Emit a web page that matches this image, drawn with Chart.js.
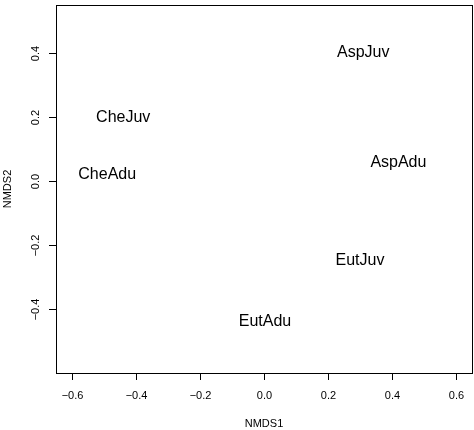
<!DOCTYPE html>
<html>
<head>
<script src="https://cdn.jsdelivr.net/npm/chart.js@4"></script>
<style>body{margin:0;background:#fff}#c{display:block}</style>
</head>
<body>
<canvas id="c" width="474" height="430"></canvas>
<script>
const labels = ['AspJuv', 'CheJuv', 'CheAdu', 'AspAdu', 'EutJuv', 'EutAdu'];
const nmds1 = [0.31, -0.44, -0.49, 0.42, 0.30, 0.003];
const nmds2 = [0.40, 0.197, 0.019, 0.059, -0.25, -0.44];
const xTicks = [-0.6, -0.4, -0.2, 0.0, 0.2, 0.4, 0.6];
const yTicks = [-0.4, -0.2, 0.0, 0.2, 0.4];

const FONT = '"Liberation Sans", Arial, sans-serif';

const rPlot = {
    id: 'rPlot',
    afterDraw(chart) {
        const ctx = chart.ctx;
        const a = chart.chartArea;
        const xs = chart.scales.x, ys = chart.scales.y;
        ctx.save();
        ctx.strokeStyle = '#000';
        ctx.lineWidth = 1;
        ctx.strokeRect(a.left + 0.5, a.top + 0.5, a.right - a.left, a.bottom - a.top);
        ctx.fillStyle = '#000';
        ctx.font = '11px ' + FONT;
        ctx.textAlign = 'center';
        ctx.textBaseline = 'middle';
        xTicks.forEach(t => {
            const px = Math.round(xs.getPixelForValue(t)) + 0.5;
            ctx.beginPath(); ctx.moveTo(px, a.bottom); ctx.lineTo(px, a.bottom + 7); ctx.stroke();
            ctx.fillText(t.toFixed(1).replace('-', '\u2212'), px, a.bottom + 23);
        });
        yTicks.forEach(t => {
            const py = Math.round(ys.getPixelForValue(t)) + 0.5;
            ctx.beginPath(); ctx.moveTo(a.left, py); ctx.lineTo(a.left - 7, py); ctx.stroke();
            ctx.save();
            ctx.translate(a.left - 20, py);
            ctx.rotate(-Math.PI / 2);
            ctx.fillText(t.toFixed(1).replace('-', '\u2212'), 0, 0);
            ctx.restore();
        });
        ctx.fillText('NMDS1', (a.left + a.right) / 2, 424);
        ctx.save();
        ctx.translate(8, (a.top + a.bottom) / 2);
        ctx.rotate(-Math.PI / 2);
        ctx.fillText('NMDS2', 0, 0);
        ctx.restore();
        ctx.font = '16px ' + FONT;
        chart.data.datasets[0].data.forEach(p => {
            ctx.fillText(p.label, xs.getPixelForValue(p.x), ys.getPixelForValue(p.y));
        });
        ctx.restore();
    }
};

new Chart(document.getElementById('c').getContext('2d'), {
    type: 'scatter',
    data: {
        datasets: [{
            data: labels.map((l, i) => ({x: nmds1[i], y: nmds2[i], label: l})),
            pointRadius: 0
        }]
    },
    options: {
        responsive: false,
        animation: false,
        layout: {padding: {left: 56, top: 5, right: 2, bottom: 57}},
        plugins: {legend: {display: false}, tooltip: {enabled: false}},
        scales: {
            x: {display: false, min: -0.65, max: 0.65},
            y: {display: false, min: -0.6, max: 0.55}
        }
    },
    plugins: [rPlot]
});
</script>
</body>
</html>
